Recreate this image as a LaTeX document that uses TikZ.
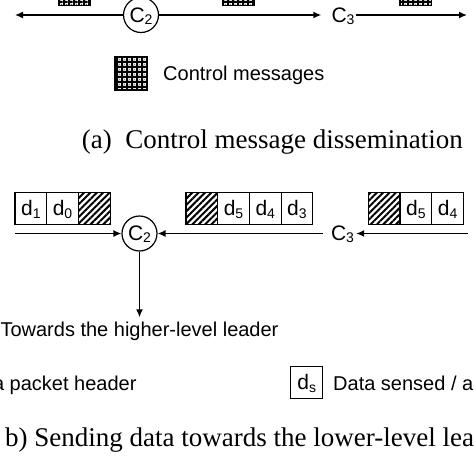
\documentclass[tikz,border=0pt]{standalone}
\usepackage{fontspec}
\setmainfont{Liberation Serif}
\setsansfont{Liberation Sans}
\usetikzlibrary{positioning,arrows.meta,patterns,patterns.meta}
\newcommand{\lowidx}[1]{\raisebox{-0.1em}[0pt][0pt]{\fontsize{14}{14}\selectfont #1}}
\pgfdeclarepatternformonly{finechk}{\pgfpointorigin}{\pgfqpoint{5.3pt}{5.3pt}}{\pgfqpoint{5.3pt}{5.3pt}}{
  \pgfpathrectangle{\pgfpointorigin}{\pgfqpoint{5.3pt}{2.4pt}}
  \pgfpathrectangle{\pgfpointorigin}{\pgfqpoint{2.4pt}{5.3pt}}
  \pgfpathrectangle{\pgfqpoint{3.6pt}{3.6pt}}{\pgfqpoint{0.9pt}{0.9pt}}
  \pgfusepath{fill}}

\begin{document}
\begin{tikzpicture}[x=1pt,y=-1pt,font=\sffamily\fontsize{20}{24}\selectfont,
  arr/.style={line width=1.4pt,-{Latex[length=8pt,width=7pt]}},
  cell/.style={draw,line width=1.2pt,minimum width=31.7pt,minimum height=31.4pt,inner sep=0pt,outer sep=0pt,font=\sffamily\fontsize{21}{24}\selectfont},
  hatch/.style={cell,pattern={Lines[angle=45,distance=4.5pt,line width=2pt]}},
  chk/.style={cell,pattern=finechk},
  hub/.style={draw,circle,line width=1.2pt,minimum size=35pt,inner sep=0pt,font=\sffamily\fontsize{21}{24}\selectfont},
  lbl/.style={inner sep=1pt,font=\sffamily\fontsize{21}{24}\selectfont},
  txt/.style={inner sep=0pt},
  captxt/.style={font=\rmfamily\fontsize{27}{32}\selectfont,inner sep=0pt,anchor=base west}]
\useasboundingbox (0,0) rectangle (474,474);
\clip (0,0) rectangle (474,474);
% (a) control messages
\node[chk,anchor=south west] (ka) at (58.3,5.7) {};
\node[chk,anchor=south west] (kb) at (222.3,5.7) {};
\node[chk,anchor=south west] (kc) at (400,5.7) {};
\node[hub] (c2a) at (141,15) {C\lowidx{2}};
\node[lbl] (c3a) at (343,15) {C\lowidx{3}};
\coordinate (wa) at (15,15);
\coordinate (ea) at (467,15);
\draw[arr] (c2a) -- (wa);
\draw[arr,shorten >=9pt] (c2a) -- (c3a);
\draw[arr] (c3a) -- (ea);
\node[chk,anchor=north west,minimum height=33pt,minimum width=32pt] (kl) at (115,57) {};
\node[txt,anchor=base west] (klt) at (163,80) {Control messages};
\node[captxt] (capa) at (81.7,148.3) {(a)~~Control message dissemination};
% (b) data towards the leader
\node[cell,anchor=north west] (l1) at (15,192.7) {d\lowidx{1}};
\node[cell,right=0pt of l1] (l0) {d\lowidx{0}};
\node[hatch,right=0pt of l0] (lh) {};
\node[hatch,anchor=north west] (mh) at (186,192.7) {};
\node[cell,right=0pt of mh] (m5) {d\lowidx{5}};
\node[cell,right=0pt of m5] (m4) {d\lowidx{4}};
\node[cell,right=0pt of m4] (m3) {d\lowidx{3}};
\node[hatch,anchor=north west] (rh) at (368.3,192.7) {};
\node[cell,right=0pt of rh] (r5) {d\lowidx{5}};
\node[cell,right=0pt of r5] (r4) {d\lowidx{4}};
\node[hub] (c2b) at (139.5,233.5) {C\lowidx{2}};
\node[lbl] (c3b) at (342.5,233.5) {C\lowidx{3}};
\coordinate (wb) at (15,233.5);
\coordinate (eb) at (467.7,233.5);
\draw[arr] (wb) -- (c2b);
\draw[arr,shorten <=7pt] (c3b) -- (c2b);
\draw[arr,shorten >=1pt] (eb) -- (c3b);
\node[txt,anchor=base,inner ysep=4pt] (tow) at (139.5,336) {Towards the higher-level leader};
\draw[arr] (c2b) -- (tow);
% legend
\node[txt,anchor=base east] (hdr) at (136.7,390) {a packet header};
\node[cell,anchor=north west,minimum width=32pt] (ds) at (290.7,366.7) {d\lowidx{s}};
\node[txt,anchor=base west] (dst) at (333,390) {Data sensed / a};
\node[captxt] (capb) at (5,446) {b) Sending data towards the lower-level lea};
\end{tikzpicture}
\end{document}
